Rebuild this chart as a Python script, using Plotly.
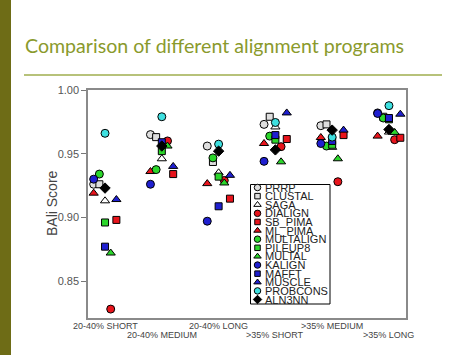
import plotly.graph_objects as go

# ---------------- data ----------------
categories = ["20-40% SHORT", "20-40% MEDIUM", "20-40% LONG",
              ">35% SHORT", ">35% MEDIUM", ">35% LONG"]
programs = ["PRRP", "CLUSTAL", "SAGA", "DIALIGN", "SB_PIMA", "ML_PIMA",
            "MULTALIGN", "PILEUP8", "MULTAL", "KALIGN", "MAFFT", "MUSCLE",
            "PROBCONS", "ALN3NN"]

prrp      = [0.926, 0.965, 0.956, 0.973, 0.972, 0.982]
clustal   = [0.926, 0.963, 0.9435, 0.979, 0.973, 0.979]
saga      = [0.913, 0.946, 0.935, 0.971, 0.955, 0.967]
dialign   = [0.828, 0.960, 0.929, 0.9555, 0.928, 0.961]
sb_pima   = [0.898, 0.934, 0.9147, 0.9615, 0.9646, 0.9625]
ml_pima   = [0.919, 0.936, 0.9265, 0.958, 0.9627, 0.9638]
multalign = [0.934, 0.9375, 0.9467, 0.9638, 0.956, 0.978]
pileup8   = [0.896, 0.952, 0.932, 0.961, 0.957, 0.977]
multal    = [0.872, 0.956, 0.927, 0.9436, 0.946, 0.9667]
kalign    = [0.930, 0.926, 0.897, 0.944, 0.958, 0.9816]
mafft     = [0.877, 0.959, 0.9087, 0.9646, 0.960, 0.978]
muscle    = [0.914, 0.940, 0.933, 0.982, 0.9685, 0.981]
probcons  = [0.966, 0.979, 0.9575, 0.9745, 0.963, 0.9877]
aln3nn    = [0.923, 0.956, 0.952, 0.953, 0.9685, 0.969]

scores = [prrp, clustal, saga, dialign, sb_pima, ml_pima, multalign,
          pileup8, multal, kalign, mafft, muscle, probcons, aln3nn]

# ---------------- styles / positions ----------------
lanes = [-2, -1, 0, 1, 2, -2, -1, 0, 1, -2, 0, 2, 0, 0]
lane_step = 0.1
symbols = ["circle", "square", "triangle-up"] * 4 + ["circle", "diamond"]
colors = ["#dedede", "#dedede", "#ffffff",
          "#e8141c", "#e8141c", "#e8141c",
          "#2bd62b", "#2bd62b", "#2bd62b",
          "#1f1fd0", "#1f1fd0", "#1f1fd0",
          "#3ee0e0", "#000000"]
sizes = {"circle": 8, "square": 7, "triangle-up": 8, "diamond": 8}

FONT = "Liberation Sans, Arial, sans-serif"

# plot area in pixels
W, H = 474, 355
L, R, T, B = 88, 68, 90, 37
pw, ph = W - L - R, H - T - B


def px(xp):
    return (xp - L) / pw


def py(yp):
    return (H - B - yp) / ph


fig = go.Figure()

for name, vals, lane, sym, col in zip(programs, scores, lanes, symbols, colors):
    fig.add_trace(go.Scatter(
        x=[i + lane * lane_step for i in range(len(categories))],
        y=vals,
        mode="markers",
        name=name,
        showlegend=False,
        marker=dict(symbol=sym, color=col, size=sizes[sym],
                    line=dict(color="black", width=1)),
    ))

# ---------------- hand-drawn legend (compact) ----------------
leg_x_marker = px(257.5)
leg_x_text = px(263)
leg_top = py(187.5)
leg_step = (py(187.5) - py(299.5)) / (len(programs) - 1)

for k, (name, sym, col) in enumerate(zip(programs, symbols, colors)):
    yk = leg_top - k * leg_step
    fig.add_trace(go.Scatter(
        x=[leg_x_marker], y=[yk], xaxis="x2", yaxis="y2",
        mode="markers", showlegend=False, hoverinfo="skip",
        marker=dict(symbol=sym, color=col, size=sizes[sym] - 1.5,
                    line=dict(color="black", width=1)),
    ))
    fig.add_annotation(
        x=leg_x_text, y=yk, xref="paper", yref="paper",
        text=name, showarrow=False, xanchor="left", yanchor="middle",
        font=dict(family=FONT, size=11, color="#222222"),
    )

shapes = [
    # legend box
    dict(type="rect", xref="paper", yref="paper",
         x0=px(250.5), x1=px(330), y0=py(304), y1=py(184.5),
         line=dict(color="black", width=1), fillcolor="white", layer="below"),
    # left slide bar
    dict(type="rect", xref="paper", yref="paper",
         x0=px(-2), x1=px(11), y0=py(H + 2), y1=py(-2),
         line=dict(width=0), fillcolor="#6e6c16"),
    # rule under the title
    dict(type="line", xref="paper", yref="paper",
         x0=px(24), x1=px(442), y0=py(75), y1=py(75),
         line=dict(color="#b7c27a", width=2)),
]

annotations = []
# staggered category labels
for i, cat in enumerate(categories):
    annotations.append(dict(
        x=i, y=py(325.5 if i % 2 == 0 else 334.5), xref="x", yref="paper",
        text=cat, showarrow=False, xanchor="center", yanchor="middle",
        font=dict(family=FONT, size=9, color="#444444"),
    ))
# y axis title
annotations.append(dict(
    x=px(52), y=py(203), xref="paper", yref="paper", text="BAli Score",
    showarrow=False, textangle=-90, xanchor="center", yanchor="middle",
    font=dict(family=FONT, size=14, color="#444444"),
))
# slide title
annotations.append(dict(
    x=px(23), y=py(45.5), xref="paper", yref="paper",
    text="Comparison of different alignment programs",
    showarrow=False, xanchor="left", yanchor="middle",
    font=dict(family="Lato, Open Sans, sans-serif", size=19.6, color="#8a9a2c"),
))

for a in annotations:
    fig.add_annotation(**a)

fig.update_layout(
    width=W, height=H,
    margin=dict(l=L, r=R, t=T, b=B, pad=0),
    paper_bgcolor="white", plot_bgcolor="white",
    showlegend=False,
    shapes=shapes,
    xaxis=dict(range=[-0.3, 5.3], showticklabels=False, ticks="",
               showgrid=False, zeroline=False, showline=True, mirror=True,
               linecolor="#8a8a8a", linewidth=1.5, fixedrange=True),
    yaxis=dict(range=[0.821, 1.0], tickvals=[0.85, 0.90, 0.95, 1.00],
               tickformat=".2f", ticks="outside", ticklen=5,
               tickcolor="#777777", tickwidth=1,
               tickfont=dict(family=FONT, size=11, color="#555555"),
               showgrid=False, zeroline=False, showline=True, mirror=True,
               linecolor="#8a8a8a", linewidth=1.5),
    xaxis2=dict(range=[0, 1], overlaying="x", visible=False, anchor="y2"),
    yaxis2=dict(range=[0, 1], overlaying="y", visible=False, anchor="x2"),
)

fig.write_html("out.html",
               config={"displayModeBar": False},
               post_script="document.body.style.margin='0';"
                           "document.body.style.overflow='hidden';")
